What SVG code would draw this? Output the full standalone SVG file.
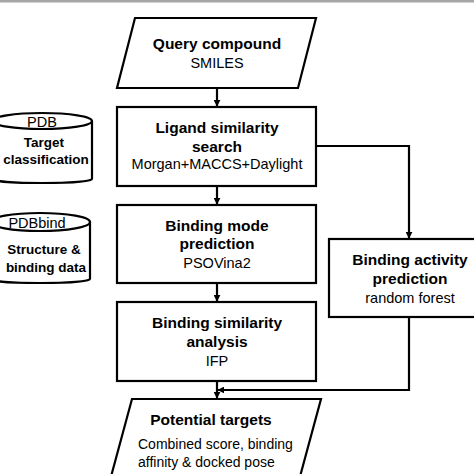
<svg xmlns="http://www.w3.org/2000/svg" width="474" height="474" viewBox="0 0 474 474">
<defs>
<style>
.s{fill:#fff;stroke:#000;stroke-width:2.2}
.c{fill:none;stroke:#000;stroke-width:2.2}
.t{font-family:"Liberation Sans",Arial,sans-serif;font-size:15.5px;font-weight:bold;text-anchor:middle;fill:#000}
.r{font-family:"Liberation Sans",Arial,sans-serif;font-size:14.5px;text-anchor:middle;fill:#000}
.d{font-family:"Liberation Sans",Arial,sans-serif;font-size:13.5px;font-weight:bold;text-anchor:middle;fill:#000}
</style>
<marker id="ah" viewBox="0 0 10 10" refX="9" refY="5" markerWidth="7" markerHeight="7" markerUnits="userSpaceOnUse" orient="auto">
<path d="M0,0 L10,5 L0,10 z" fill="#000"/>
</marker>
</defs>
<rect width="474" height="474" fill="#fff"/>
<rect x="0" y="0" width="474" height="2.5" fill="#a6a6a6"/>

<g id="connectors">
<line class="c" x1="217" y1="88" x2="217" y2="106" marker-end="url(#ah)"/>
<line class="c" x1="217" y1="186" x2="217" y2="204" marker-end="url(#ah)"/>
<line class="c" x1="217" y1="283" x2="217" y2="301" marker-end="url(#ah)"/>
<line class="c" x1="217" y1="381" x2="217" y2="398" marker-end="url(#ah)"/>
<path class="c" d="M316,146 H409 V238" marker-end="url(#ah)"/>
<path class="c" d="M409,317 V390 H218" marker-end="url(#ah)"/>
</g>

<g id="query">
<polygon class="s" points="135,18 316,18 298,88 117,88"/>
<text class="t" x="217" y="49">Query compound</text>
<text class="r" x="217" y="68">SMILES</text>
</g>

<g id="ligand">
<rect class="s" x="117" y="107" width="199" height="79"/>
<text class="t" x="217" y="133">Ligand similarity</text>
<text class="t" x="217" y="152">search</text>
<text class="r" x="217" y="169">Morgan+MACCS+Daylight</text>
</g>

<g id="mode">
<rect class="s" x="117" y="205" width="199" height="78"/>
<text class="t" x="217" y="231">Binding mode</text>
<text class="t" x="217" y="249">prediction</text>
<text class="r" x="217" y="268">PSOVina2</text>
</g>

<g id="simanalysis">
<rect class="s" x="117" y="302" width="199" height="79"/>
<text class="t" x="217" y="328">Binding similarity</text>
<text class="t" x="217" y="347">analysis</text>
<text class="r" x="217" y="366">IFP</text>
</g>

<g id="activity">
<rect class="s" x="329" y="239" width="160" height="78"/>
<text class="t" x="410" y="265">Binding activity</text>
<text class="t" x="410" y="284">prediction</text>
<text class="r" x="410" y="303">random forest</text>
</g>

<g id="targets">
<polygon class="s" points="132,399 321,399 298,484 109,484"/>
<text class="t" x="211" y="425">Potential targets</text>
<text class="r" x="138" y="449" style="text-anchor:start;font-size:14px">Combined score, binding</text>
<text class="r" x="138" y="467" style="text-anchor:start;font-size:14px">affinity &amp; docked pose</text>
</g>

<g id="pdb">
<path class="s" d="M-8,121 V179 A50,4 0 0 0 92,179 V121"/>
<ellipse class="s" cx="42" cy="121" rx="50" ry="8"/>
<text class="r" x="42" y="127">PDB</text>
<text class="d" x="44" y="147">Target</text>
<text class="d" x="46" y="164">classification</text>
</g>

<g id="pdbbind">
<path class="s" d="M-10,222 V279 A50,4 0 0 0 90,279 V222"/>
<ellipse class="s" cx="40" cy="222" rx="50" ry="9"/>
<text class="r" x="37" y="228">PDBbind</text>
<text class="d" x="44" y="254">Structure &amp;</text>
<text class="d" x="46" y="272">binding data</text>
</g>
</svg>
